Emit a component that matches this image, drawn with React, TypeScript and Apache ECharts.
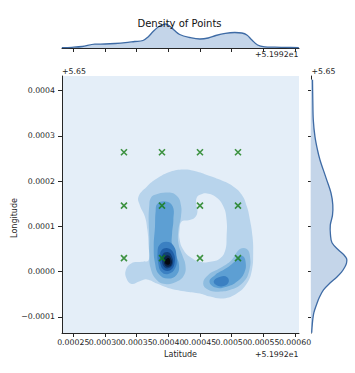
import React, { useEffect, useRef } from 'react';
import * as echarts from 'echarts';

// All coordinates are offsets in micro-degrees (1e-6 deg):
// latitude relative to 51.992, longitude relative to 5.65
const X_MIN = 232.2;
const X_MAX = 606.3;
const Y_MIN = -135.4;
const Y_MAX = 432.5;
const xTicks = [250, 300, 350, 400, 450, 500, 550, 600];
const yTicks = [-100, 0, 100, 200, 300, 400];

// sample points (grid of green crosses)
const pointLat = [330, 390, 450, 510];
const pointLon = [264, 146, 30];

// top marginal density (latitude)
const topLat = [232, 248, 264, 284, 300, 316, 332, 347, 360, 368, 376, 384, 392, 396, 401, 409, 418, 434, 450, 463, 475, 490, 505, 516, 524, 532, 541, 552, 568, 584, 606];
const topDensity = [75, 175, 375, 950, 1000, 1125, 1325, 1625, 1875, 2750, 4125, 5250, 5875, 6000, 5625, 4500, 3375, 2625, 2250, 2500, 3125, 3675, 3875, 3750, 3250, 2000, 750, 300, 200, 150, 75];

// right marginal density (longitude)
const rightLon = [424, 379, 335, 298, 269, 247, 225, 203, 174, 148, 125, 103, 81, 64, 48, 37, 28, 19, 11, -1, -12, -25, -40, -56, -74, -91, -107, -124, -135];
const rightDensity = [375, 450, 575, 1000, 1625, 2250, 3075, 3925, 5000, 5450, 5375, 4825, 4875, 5250, 6875, 8250, 8925, 8875, 8500, 7625, 6425, 4750, 3125, 2125, 1325, 700, 425, 250, 175];

// KDE contour outlines, [lat, lon]
const contourL1 = [[403, 221], [424, 226], [440, 223], [461, 214], [482, 203], [503, 188], [516, 170], [524, 144], [529, 114], [533, 77], [534, 41], [532, 4], [524, -26], [508, -48], [487, -59], [466, -55], [450, -48], [429, -44], [403, -37], [382, -26], [366, -17], [355, -21], [342, -27], [334, -15], [333, 4], [342, 19], [358, 22], [369, 26], [369, 55], [367, 92], [363, 122], [355, 147], [353, 166], [366, 188], [382, 206]];
const holeL1 = [[450, 170], [461, 173], [476, 164], [487, 144], [492, 114], [492, 77], [490, 48], [482, 30], [466, 22], [450, 22], [434, 33], [424, 48], [418, 70], [418, 96], [421, 111], [432, 114], [442, 120], [446, 133], [444, 151], [445, 164]];
const contourL2a = [[379, 170], [400, 175], [414, 167], [420, 147], [420, 122], [416, 92], [416, 63], [422, 37], [427, 15], [425, -7], [413, -22], [395, -27], [381, -17], [372, 8], [370, 41], [370, 77], [369, 114], [370, 147], [372, 162]];
const contourL2b = [[455, -26], [463, -7], [482, 8], [500, 26], [513, 50], [524, 50], [529, 33], [528, 4], [519, -22], [500, -39], [479, -44], [463, -40]];
const contourL3a = [[383, 150], [396, 155], [407, 144], [408, 114], [406, 85], [406, 59], [412, 37], [417, 13], [413, -7], [399, -15], [385, -5], [379, 19], [377, 55], [379, 100], [380, 133]];
const contourL3b = [[465, -22], [474, -7], [492, 8], [508, 26], [517, 35], [522, 22], [520, -2], [508, -22], [492, -33], [475, -35]];
const contourL4a = [[386, 59], [397, 66], [408, 58], [413, 33], [411, 8], [400, -5], [389, 0], [384, 20], [383, 41]];
const contourL4b = [[472, -20], [482, -11], [493, -12], [495, -24], [486, -32], [475, -29]];
const contourL5 = [[389, 47], [399, 52], [408, 42], [410, 20], [404, 4], [393, 4], [387, 20], [387, 35]];
const contourL6 = [[391, 38], [400, 43], [406, 33], [407, 17], [401, 8], [394, 10], [390, 22]];
const contourL7 = [[394, 32], [400, 36], [405, 27], [405, 16], [400, 11], [395, 14], [393, 22]];
const contourL8 = [[396, 27], [401, 30], [403, 22], [401, 16], [396, 17], [395, 22]];

const layers = [
  { pts: contourL1, level: 1 },
  { pts: holeL1, level: 0 },
  { pts: contourL2a, level: 2 },
  { pts: contourL2b, level: 2 },
  { pts: contourL3a, level: 3 },
  { pts: contourL3b, level: 3 },
  { pts: contourL4a, level: 4 },
  { pts: contourL4b, level: 4 },
  { pts: contourL5, level: 5 },
  { pts: contourL6, level: 6 },
  { pts: contourL7, level: 7 },
  { pts: contourL8, level: 8 },
];

const levelColors = ['#e4eef8', '#b8d4ec', '#8fbde0', '#5d9fd3', '#3b80c2', '#1f5ea6', '#103f78', '#0a2246', '#04080f'];

const FONT = '"DejaVu Sans", sans-serif';
const TXT = '#262626';

function fmtX(v: number) {
  return (v * 1e-6).toFixed(5);
}
function fmtY(v: number) {
  return (v * 1e-6).toFixed(4).replace('-', '\u2212');
}

export default function App() {
  const ref = useRef<HTMLDivElement>(null);
  useEffect(() => {
    if (!ref.current) return;
    const chart = echarts.init(ref.current, null, { renderer: 'svg' });

    const points: number[][] = [];
    pointLon.forEach((lo) => pointLat.forEach((la) => points.push([la, lo])));

    const axisLine = { show: true, onZero: false, lineStyle: { color: TXT, width: 1 } };
    // labels alternate between two overlaid axes so overlapping labels all stay visible
    const xLabelsA = xTicks.filter((_, i) => i % 2 === 0);
    const xLabelsB = xTicks.filter((_, i) => i % 2 === 1);
    const xLabelStyle = {
      show: true, formatter: fmtX, fontSize: 7.8, fontFamily: FONT, color: TXT, margin: 5,
      hideOverlap: false, showMinLabel: true, showMaxLabel: true,
    };

    const option: any = {
      animation: false,
      backgroundColor: '#ffffff',
      grid: [
        { left: 62, top: 76, width: 237, height: 257, show: true, backgroundColor: levelColors[0], borderWidth: 0 },
        { left: 62, top: 8, width: 237, height: 40 },
        { left: 311, top: 76, width: 40, height: 257 },
      ],
      xAxis: [
        {
          gridIndex: 0, type: 'value', min: X_MIN, max: X_MAX, position: 'bottom',
          axisLine, splitLine: { show: false },
          axisTick: { show: true, length: 4, customValues: xTicks, lineStyle: { color: TXT } },
          axisLabel: { ...xLabelStyle, customValues: xLabelsA },
        },
        {
          gridIndex: 1, type: 'value', min: X_MIN, max: X_MAX, position: 'bottom',
          axisLine, splitLine: { show: false },
          axisTick: { show: true, length: 4, customValues: xTicks, lineStyle: { color: TXT } },
          axisLabel: { show: false },
        },
        { gridIndex: 2, type: 'value', min: 0, max: 10000, show: false },
        {
          gridIndex: 0, type: 'value', min: X_MIN, max: X_MAX, position: 'bottom', offset: 0,
          axisLine: { show: false }, splitLine: { show: false }, axisTick: { show: false },
          axisLabel: { ...xLabelStyle, customValues: xLabelsB },
        },
      ],
      yAxis: [
        {
          gridIndex: 0, type: 'value', min: Y_MIN, max: Y_MAX,
          axisLine, splitLine: { show: false },
          axisTick: { show: true, length: 4, customValues: yTicks, lineStyle: { color: TXT } },
          axisLabel: {
            show: true, customValues: yTicks, formatter: fmtY, fontSize: 7.8, fontFamily: FONT, color: TXT, margin: 7,
            showMinLabel: true, showMaxLabel: true,
          },
        },
        { gridIndex: 1, type: 'value', min: 0, max: 10000, show: false },
        {
          gridIndex: 2, type: 'value', min: Y_MIN, max: Y_MAX,
          axisLine, splitLine: { show: false },
          axisTick: { show: true, length: 3, customValues: yTicks, lineStyle: { color: TXT } },
          axisLabel: { show: false },
        },
      ],
      series: [
        {
          type: 'custom',
          xAxisIndex: 0,
          yAxisIndex: 0,
          data: layers.map((l, i) => [l.pts[0][0], l.pts[0][1], i]),
          renderItem: (params: any, api: any) => {
            const layer = layers[params.dataIndex];
            return {
              type: 'polygon',
              shape: { points: layer.pts.map((p) => api.coord(p)), smooth: 0.45 },
              style: { fill: levelColors[layer.level] },
            };
          },
          silent: true,
        },
        {
          type: 'scatter',
          xAxisIndex: 0,
          yAxisIndex: 0,
          data: points,
          symbol: 'path://M0,0L10,10M10,0L0,10',
          symbolSize: 6,
          itemStyle: { color: 'none', borderColor: '#137a13', borderWidth: 1.6 },
          z: 5,
        },
        {
          type: 'line',
          xAxisIndex: 1,
          yAxisIndex: 1,
          data: topLat.map((x, i) => [x, topDensity[i]]),
          smooth: 0.35,
          symbol: 'none',
          lineStyle: { color: '#3e6ba5', width: 1.3 },
          areaStyle: { color: '#c4d5e9', opacity: 1 },
        },
        {
          type: 'custom',
          xAxisIndex: 2,
          yAxisIndex: 2,
          data: [[0, 0]],
          renderItem: (params: any, api: any) => {
            const pts = rightDensity.map((d, i) => api.coord([d, rightLon[i]]));
            const first = api.coord([0, rightLon[0]]);
            const last = api.coord([0, rightLon[rightLon.length - 1]]);
            return {
              type: 'group',
              children: [
                { type: 'polygon', shape: { points: [first, ...pts, last], smooth: 0.35 }, style: { fill: '#c4d5e9' } },
                { type: 'polyline', shape: { points: pts, smooth: 0.35 }, style: { stroke: '#3e6ba5', lineWidth: 1.3, fill: 'none' } },
              ],
            };
          },
          silent: true,
        },
      ],
      graphic: [
        { type: 'text', x: 179.5, y: 23, style: { text: 'Density of Points', font: `10px ${FONT}`, fill: '#111', align: 'center', verticalAlign: 'middle' }, z: 10 },
        { type: 'text', x: 62, y: 71.5, style: { text: '+5.65', font: `7.8px ${FONT}`, fill: TXT, align: 'left', verticalAlign: 'middle' } },
        { type: 'text', x: 311.5, y: 71.5, style: { text: '+5.65', font: `7.8px ${FONT}`, fill: TXT, align: 'left', verticalAlign: 'middle' } },
        { type: 'text', x: 298.5, y: 54.5, style: { text: '+5.1992e1', font: `7.8px ${FONT}`, fill: TXT, align: 'right', verticalAlign: 'middle' } },
        { type: 'text', x: 298.5, y: 354, style: { text: '+5.1992e1', font: `7.8px ${FONT}`, fill: TXT, align: 'right', verticalAlign: 'middle' } },
        { type: 'text', x: 180.5, y: 354, style: { text: 'Latitude', font: `8px ${FONT}`, fill: TXT, align: 'center', verticalAlign: 'middle' } },
        { type: 'text', x: 14, y: 218, rotation: Math.PI / 2, style: { text: 'Longitude', font: `8px ${FONT}`, fill: TXT, align: 'center', verticalAlign: 'middle' } },
      ],
    };
    chart.setOption(option);
    return () => chart.dispose();
  }, []);
  return <div ref={ref} style={{ position: 'fixed', left: 0, top: 0, width: 355, height: 373 }} />;
}
